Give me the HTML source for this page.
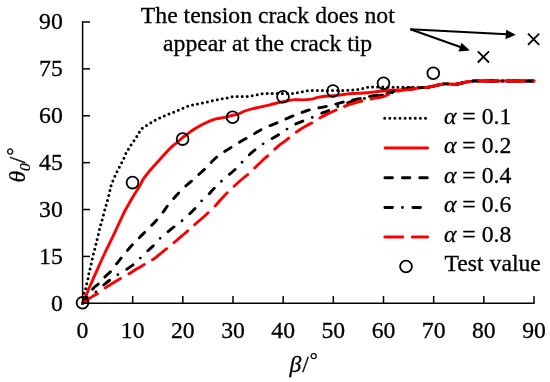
<!DOCTYPE html>
<html><head><meta charset="utf-8"><title>chart</title><style>html,body{margin:0;padding:0;background:#fff;width:550px;height:382px;overflow:hidden}svg{display:block}</style></head><body>
<svg width="550" height="382" viewBox="0 0 550 382">
<rect width="550" height="382" fill="#fff"/>
<path d="M82.50,303.30 C82.75,301.55 83.45,295.30 84.00,292.80 C84.55,290.30 85.33,289.92 85.80,288.30 C86.27,286.68 86.42,284.75 86.80,283.10 C87.18,281.45 87.75,280.03 88.10,278.40 C88.45,276.77 88.58,274.87 88.90,273.30 C89.22,271.73 89.62,270.58 90.00,269.00 C90.38,267.42 90.82,265.50 91.20,263.80 C91.58,262.10 91.92,260.47 92.30,258.80 C92.68,257.13 93.08,255.43 93.50,253.80 C93.92,252.17 94.38,250.60 94.80,249.00 C95.22,247.40 95.60,245.87 96.00,244.20 C96.40,242.53 96.78,240.70 97.20,239.00 C97.62,237.30 98.12,235.62 98.50,234.00 C98.88,232.38 99.12,230.88 99.50,229.30 C99.88,227.72 100.35,226.10 100.80,224.50 C101.25,222.90 101.75,221.32 102.20,219.70 C102.65,218.08 103.07,216.45 103.50,214.80 C103.93,213.15 104.35,211.43 104.80,209.80 C105.25,208.17 105.75,206.60 106.20,205.00 C106.65,203.40 107.07,201.78 107.50,200.20 C107.93,198.62 108.38,197.17 108.80,195.50 C109.22,193.83 109.60,191.92 110.00,190.20 C110.40,188.48 110.70,186.82 111.20,185.20 C111.70,183.58 112.37,182.03 113.00,180.50 C113.63,178.97 114.30,177.53 115.00,176.00 C115.70,174.47 116.45,172.80 117.20,171.30 C117.95,169.80 118.73,168.47 119.50,167.00 C120.27,165.53 121.05,164.00 121.80,162.50 C122.55,161.00 123.30,159.55 124.00,158.00 C124.70,156.45 125.25,154.70 126.00,153.20 C126.75,151.70 127.62,150.45 128.50,149.00 C129.38,147.55 130.35,145.92 131.30,144.50 C132.25,143.08 133.25,141.88 134.20,140.50 C135.15,139.12 136.12,137.62 137.00,136.20 C137.88,134.78 138.58,133.37 139.50,132.00 C140.42,130.63 141.28,129.13 142.50,128.00 C143.72,126.87 145.35,126.12 146.80,125.20 C148.25,124.28 149.75,123.37 151.20,122.50 C152.65,121.63 154.03,120.78 155.50,120.00 C156.97,119.22 158.47,118.52 160.00,117.80 C161.53,117.08 163.15,116.37 164.70,115.70 C166.25,115.03 167.75,114.42 169.30,113.80 C170.85,113.18 172.43,112.63 174.00,112.00 C175.57,111.37 177.12,110.67 178.70,110.00 C180.28,109.33 181.87,108.67 183.50,108.00 C185.13,107.33 186.92,106.50 188.50,106.00 C190.08,105.50 191.42,105.37 193.00,105.00 C194.58,104.63 196.33,104.17 198.00,103.80 C199.67,103.43 201.33,103.13 203.00,102.80 C204.67,102.47 206.33,102.15 208.00,101.80 C209.67,101.45 211.33,101.05 213.00,100.70 C214.67,100.35 216.33,100.03 218.00,99.70 C219.67,99.37 221.42,98.98 223.00,98.70 C224.58,98.42 225.92,98.32 227.50,98.00 C229.08,97.68 230.83,97.05 232.50,96.80 C234.17,96.55 235.83,96.55 237.50,96.50 C239.17,96.45 240.83,96.50 242.50,96.50 C244.17,96.50 245.83,96.62 247.50,96.50 C249.17,96.38 250.83,96.08 252.50,95.80 C254.17,95.52 255.83,95.13 257.50,94.80 C259.17,94.47 260.83,94.02 262.50,93.80 C264.17,93.58 265.83,93.53 267.50,93.50 C269.17,93.47 269.95,93.58 272.50,93.60 C275.05,93.62 279.38,93.63 282.80,93.60 C286.22,93.57 290.48,93.55 293.00,93.40 C295.52,93.25 296.25,93.00 297.90,92.70 C299.55,92.40 301.25,91.93 302.90,91.60 C304.55,91.27 306.15,90.87 307.80,90.70 C309.45,90.53 310.27,90.62 312.80,90.60 C315.33,90.58 317.97,90.62 323.00,90.60 C328.03,90.58 338.00,90.60 343.00,90.50 C348.00,90.40 350.50,90.17 353.00,90.00 C355.50,89.83 356.33,89.75 358.00,89.50 C359.67,89.25 361.33,88.88 363.00,88.50 C364.67,88.12 366.33,87.45 368.00,87.20 C369.67,86.95 369.33,87.00 373.00,87.00 C376.67,87.00 385.50,87.17 390.00,87.20 C394.50,87.23 396.67,87.20 400.00,87.20 C403.33,87.20 406.67,87.15 410.00,87.20 C413.33,87.25 417.33,87.43 420.00,87.50 C422.67,87.57 424.33,87.70 426.00,87.60 C427.67,87.50 428.33,87.23 430.00,86.90 C431.67,86.57 433.67,86.12 436.00,85.60 C438.33,85.08 441.50,84.03 444.00,83.80 C446.50,83.57 449.00,84.12 451.00,84.20 C453.00,84.28 454.17,84.50 456.00,84.30 C457.83,84.10 460.00,83.42 462.00,83.00 C464.00,82.58 465.83,82.18 468.00,81.80 C470.17,81.42 472.67,80.83 475.00,80.70 C477.33,80.57 472.17,80.95 482.00,81.00 C491.83,81.05 525.33,81.00 534.00,81.00" fill="none" stroke="#000" stroke-width="3.0" stroke-linecap="round" stroke-dasharray="0 5.05"/>
<path d="M82.50,303.30 C83.08,302.02 84.92,298.08 86.00,295.60 C87.08,293.12 88.02,290.70 89.00,288.40 C89.98,286.10 90.93,284.00 91.90,281.80 C92.87,279.60 93.82,277.40 94.80,275.20 C95.78,273.00 96.82,270.80 97.80,268.60 C98.78,266.40 99.80,264.02 100.70,262.00 C101.60,259.98 102.40,258.22 103.20,256.50 C104.00,254.78 104.52,253.73 105.50,251.70 C106.48,249.67 107.92,246.72 109.10,244.30 C110.28,241.88 111.55,239.38 112.60,237.20 C113.65,235.02 114.43,233.28 115.40,231.20 C116.37,229.12 117.33,227.02 118.40,224.70 C119.47,222.38 120.70,219.62 121.80,217.30 C122.90,214.98 123.90,212.88 125.00,210.80 C126.10,208.72 127.22,206.90 128.40,204.80 C129.58,202.70 130.87,200.28 132.10,198.20 C133.33,196.12 134.52,194.38 135.80,192.30 C137.08,190.22 138.53,187.92 139.80,185.70 C141.07,183.48 142.07,181.08 143.40,179.00 C144.73,176.92 146.20,175.20 147.80,173.20 C149.40,171.20 151.25,169.00 153.00,167.00 C154.75,165.00 156.75,162.90 158.30,161.20 C159.85,159.50 160.83,158.42 162.30,156.80 C163.77,155.18 165.45,153.23 167.10,151.50 C168.75,149.77 170.48,147.93 172.20,146.40 C173.92,144.87 175.72,143.73 177.40,142.30 C179.08,140.87 180.62,139.17 182.30,137.80 C183.98,136.43 185.67,135.43 187.50,134.10 C189.33,132.77 191.35,131.12 193.30,129.80 C195.25,128.48 197.12,127.35 199.20,126.20 C201.28,125.05 203.73,123.88 205.80,122.90 C207.87,121.92 209.73,121.00 211.60,120.30 C213.47,119.60 214.77,119.20 217.00,118.70 C219.23,118.20 222.50,117.83 225.00,117.30 C227.50,116.77 229.83,116.03 232.00,115.50 C234.17,114.97 235.83,114.85 238.00,114.10 C240.17,113.35 242.67,111.87 245.00,111.00 C247.33,110.13 249.50,109.55 252.00,108.90 C254.50,108.25 257.00,107.78 260.00,107.10 C263.00,106.42 266.67,105.58 270.00,104.80 C273.33,104.02 276.67,103.15 280.00,102.40 C283.33,101.65 287.50,100.77 290.00,100.30 C292.50,99.83 293.00,99.67 295.00,99.60 C297.00,99.53 299.50,99.93 302.00,99.90 C304.50,99.87 307.33,99.82 310.00,99.40 C312.67,98.98 315.50,97.92 318.00,97.40 C320.50,96.88 322.50,96.57 325.00,96.30 C327.50,96.03 330.50,96.00 333.00,95.80 C335.50,95.60 337.50,95.42 340.00,95.10 C342.50,94.78 345.67,94.17 348.00,93.90 C350.33,93.63 352.00,93.60 354.00,93.50 C356.00,93.40 357.67,93.43 360.00,93.30 C362.33,93.17 365.50,92.93 368.00,92.70 C370.50,92.47 372.67,92.18 375.00,91.90 C377.33,91.62 379.50,91.27 382.00,91.00 C384.50,90.73 387.00,90.47 390.00,90.30 C393.00,90.13 397.00,90.17 400.00,90.00 C403.00,89.83 405.67,89.53 408.00,89.30 C410.33,89.07 412.00,88.87 414.00,88.60 C416.00,88.33 418.00,87.87 420.00,87.70 C422.00,87.53 424.33,87.73 426.00,87.60 C427.67,87.47 428.33,87.23 430.00,86.90 C431.67,86.57 433.67,86.10 436.00,85.60 C438.33,85.10 441.50,84.13 444.00,83.90 C446.50,83.67 449.00,84.13 451.00,84.20 C453.00,84.27 454.17,84.50 456.00,84.30 C457.83,84.10 460.00,83.42 462.00,83.00 C464.00,82.58 465.83,82.15 468.00,81.80 C470.17,81.45 472.67,81.03 475.00,80.90 C477.33,80.77 472.17,80.98 482.00,81.00 C491.83,81.02 525.33,81.00 534.00,81.00" fill="none" stroke="#f00" stroke-width="2.9" stroke-linecap="round"/>
<path d="M82.50,303.30 C84.20,300.93 89.92,292.45 92.70,289.10 C95.48,285.75 97.13,285.27 99.20,283.20 C101.27,281.13 103.13,278.70 105.10,276.70 C107.07,274.70 109.02,273.43 111.00,271.20 C112.98,268.97 115.17,265.67 117.00,263.30 C118.83,260.93 120.17,259.25 122.00,257.00 C123.83,254.75 126.08,252.05 128.00,249.80 C129.92,247.55 131.50,245.63 133.50,243.50 C135.50,241.37 137.92,239.08 140.00,237.00 C142.08,234.92 143.83,233.17 146.00,231.00 C148.17,228.83 151.00,226.08 153.00,224.00 C155.00,221.92 156.00,220.92 158.00,218.50 C160.00,216.08 163.25,211.83 165.00,209.50 C166.75,207.17 166.83,206.58 168.50,204.50 C170.17,202.42 173.00,199.25 175.00,197.00 C177.00,194.75 178.33,193.17 180.50,191.00 C182.67,188.83 185.83,185.92 188.00,184.00 C190.17,182.08 191.33,181.42 193.50,179.50 C195.67,177.58 198.75,174.58 201.00,172.50 C203.25,170.42 205.00,169.00 207.00,167.00 C209.00,165.00 210.83,162.58 213.00,160.50 C215.17,158.42 217.58,156.30 220.00,154.50 C222.42,152.70 225.08,151.23 227.50,149.70 C229.92,148.17 232.00,146.83 234.50,145.30 C237.00,143.77 239.92,141.97 242.50,140.50 C245.08,139.03 247.50,137.95 250.00,136.50 C252.50,135.05 255.00,133.26 257.50,131.77 C260.00,130.28 262.33,128.79 265.00,127.55 C267.67,126.30 270.83,125.38 273.50,124.30 C276.17,123.22 278.33,122.27 281.00,121.10 C283.67,119.93 286.67,118.47 289.50,117.30 C292.33,116.13 295.25,115.15 298.00,114.10 C300.75,113.05 303.25,111.92 306.00,111.00 C308.75,110.08 311.67,109.25 314.50,108.60 C317.33,107.95 320.17,107.66 323.00,107.10 C325.83,106.54 328.50,105.95 331.50,105.22 C334.50,104.49 338.08,103.48 341.00,102.71 C343.92,101.94 346.17,101.22 349.00,100.60 C351.83,99.98 355.17,99.53 358.00,99.00 C360.83,98.47 363.67,97.90 366.00,97.40 C368.33,96.90 369.00,96.57 372.00,96.00 C375.00,95.43 380.17,94.80 384.00,94.00 C387.83,93.20 392.00,91.93 395.00,91.20 C398.00,90.47 399.50,90.13 402.00,89.60 C404.50,89.07 407.00,88.32 410.00,88.00 C413.00,87.68 417.33,87.77 420.00,87.70 C422.67,87.63 424.33,87.73 426.00,87.60 C427.67,87.47 428.33,87.23 430.00,86.90 C431.67,86.57 433.67,86.10 436.00,85.60 C438.33,85.10 441.50,84.13 444.00,83.90 C446.50,83.67 449.00,84.13 451.00,84.20 C453.00,84.27 454.17,84.50 456.00,84.30 C457.83,84.10 460.00,83.42 462.00,83.00 C464.00,82.58 465.83,82.15 468.00,81.80 C470.17,81.45 472.67,81.03 475.00,80.90 C477.33,80.77 472.17,80.98 482.00,81.00 C491.83,81.02 525.33,81.00 534.00,81.00" fill="none" stroke="#000" stroke-width="2.9" stroke-linecap="round" stroke-dasharray="7.6 9.8"/>
<path d="M82.50,303.30 C83.67,302.33 87.22,299.42 89.50,297.50 C91.78,295.58 93.90,293.82 96.20,291.80 C98.50,289.78 101.02,287.37 103.30,285.40 C105.58,283.43 107.50,281.78 109.90,280.00 C112.30,278.22 115.00,276.43 117.70,274.70 C120.40,272.97 123.53,271.25 126.10,269.60 C128.67,267.95 130.78,266.67 133.10,264.80 C135.42,262.93 137.68,260.62 140.00,258.40 C142.32,256.18 144.83,253.57 147.00,251.50 C149.17,249.43 150.83,248.17 153.00,246.00 C155.17,243.83 157.17,241.17 160.00,238.50 C162.83,235.83 166.42,232.88 170.00,230.00 C173.58,227.12 178.33,223.78 181.50,221.20 C184.67,218.62 186.83,216.53 189.00,214.50 C191.17,212.47 192.50,211.17 194.50,209.00 C196.50,206.83 198.75,203.83 201.00,201.50 C203.25,199.17 205.92,197.08 208.00,195.00 C210.08,192.92 211.50,191.08 213.50,189.00 C215.50,186.92 217.58,184.75 220.00,182.50 C222.42,180.25 225.58,177.58 228.00,175.50 C230.42,173.42 232.30,172.05 234.50,170.00 C236.70,167.95 238.95,165.53 241.20,163.20 C243.45,160.87 245.87,158.09 248.00,156.00 C250.13,153.91 251.75,152.50 254.00,150.65 C256.25,148.80 258.83,146.74 261.50,144.92 C264.17,143.10 267.42,141.25 270.00,139.73 C272.58,138.21 274.33,137.46 277.00,135.80 C279.67,134.15 283.33,131.55 286.00,129.80 C288.67,128.05 290.50,126.63 293.00,125.30 C295.50,123.97 298.17,122.92 301.00,121.80 C303.83,120.68 307.00,119.85 310.00,118.60 C313.00,117.35 316.17,115.52 319.00,114.30 C321.83,113.08 324.17,112.47 327.00,111.30 C329.83,110.13 332.67,108.66 336.00,107.28 C339.33,105.90 343.33,104.21 347.00,103.00 C350.67,101.79 353.83,101.00 358.00,100.00 C362.17,99.00 367.00,98.00 372.00,97.00 C377.00,96.00 383.33,95.08 388.00,94.00 C392.67,92.92 396.33,91.50 400.00,90.50 C403.67,89.50 406.67,88.47 410.00,88.00 C413.33,87.53 417.33,87.77 420.00,87.70 C422.67,87.63 424.33,87.73 426.00,87.60 C427.67,87.47 428.33,87.23 430.00,86.90 C431.67,86.57 433.67,86.10 436.00,85.60 C438.33,85.10 441.50,84.13 444.00,83.90 C446.50,83.67 449.00,84.13 451.00,84.20 C453.00,84.27 454.17,84.50 456.00,84.30 C457.83,84.10 460.00,83.42 462.00,83.00 C464.00,82.58 465.83,82.15 468.00,81.80 C470.17,81.45 472.67,81.03 475.00,80.90 C477.33,80.77 472.17,80.98 482.00,81.00 C491.83,81.02 525.33,81.00 534.00,81.00" fill="none" stroke="#000" stroke-width="2.9" stroke-linecap="round" stroke-dasharray="7.6 10 0 10.4"/>
<path d="M82.50,303.30 C84.25,302.10 90.38,297.77 93.00,296.10 C95.62,294.43 96.07,294.72 98.20,293.30 C100.33,291.88 102.57,289.77 105.80,287.60 C109.03,285.43 115.18,281.78 117.60,280.30 C120.02,278.82 118.33,279.82 120.30,278.70 C122.27,277.58 126.62,275.25 129.40,273.60 C132.18,271.95 134.37,270.38 137.00,268.80 C139.63,267.22 142.53,265.65 145.20,264.10 C147.87,262.55 150.53,261.18 153.00,259.50 C155.47,257.82 157.58,255.92 160.00,254.00 C162.42,252.08 164.83,250.17 167.50,248.00 C170.17,245.83 173.25,243.33 176.00,241.00 C178.75,238.67 181.67,236.00 184.00,234.00 C186.33,232.00 188.00,230.75 190.00,229.00 C192.00,227.25 193.83,225.42 196.00,223.50 C198.17,221.58 200.83,219.42 203.00,217.50 C205.17,215.58 206.83,214.08 209.00,212.00 C211.17,209.92 214.17,206.92 216.00,205.00 C217.83,203.08 218.00,202.67 220.00,200.50 C222.00,198.33 225.33,194.67 228.00,192.00 C230.67,189.33 233.33,186.92 236.00,184.50 C238.67,182.08 241.75,179.42 244.00,177.50 C246.25,175.58 247.50,174.80 249.50,173.00 C251.50,171.20 253.83,168.81 256.00,166.72 C258.17,164.63 260.33,162.45 262.50,160.45 C264.67,158.44 266.42,157.05 269.00,154.69 C271.58,152.33 275.50,148.45 278.00,146.30 C280.50,144.15 281.83,143.47 284.00,141.80 C286.17,140.13 288.50,138.22 291.00,136.30 C293.50,134.38 296.42,132.05 299.00,130.30 C301.58,128.55 304.00,127.22 306.50,125.80 C309.00,124.38 311.50,123.25 314.00,121.80 C316.50,120.35 319.17,118.43 321.50,117.10 C323.83,115.77 325.75,114.89 328.00,113.80 C330.25,112.70 333.00,111.40 335.00,110.53 C337.00,109.66 338.00,109.44 340.00,108.57 C342.00,107.70 344.33,106.31 347.00,105.30 C349.67,104.29 353.00,103.33 356.00,102.50 C359.00,101.67 362.00,100.98 365.00,100.30 C368.00,99.62 371.00,98.98 374.00,98.40 C377.00,97.82 379.93,97.75 383.00,96.80 C386.07,95.85 389.57,93.72 392.40,92.70 C395.23,91.68 397.73,91.17 400.00,90.70 C402.27,90.23 403.83,90.15 406.00,89.90 C408.17,89.65 410.67,89.57 413.00,89.20 C415.33,88.83 417.83,87.97 420.00,87.70 C422.17,87.43 424.33,87.73 426.00,87.60 C427.67,87.47 428.33,87.23 430.00,86.90 C431.67,86.57 433.67,86.10 436.00,85.60 C438.33,85.10 441.50,84.13 444.00,83.90 C446.50,83.67 449.00,84.13 451.00,84.20 C453.00,84.27 454.17,84.50 456.00,84.30 C457.83,84.10 460.00,83.42 462.00,83.00 C464.00,82.58 465.83,82.15 468.00,81.80 C470.17,81.45 472.67,81.03 475.00,80.90 C477.33,80.77 472.17,80.98 482.00,81.00 C491.83,81.02 525.33,81.00 534.00,81.00" fill="none" stroke="#f00" stroke-width="2.9" stroke-linecap="round" stroke-dasharray="18 9.5"/>
<g stroke="#000" stroke-width="1.5" fill="none">
<path d="M82.6,21.3 V303.3 H534.6" stroke-linejoin="miter"/>
<path d="M82.6,303.30 H90"/>
<path d="M82.6,256.42 H90"/>
<path d="M82.6,209.53 H90"/>
<path d="M82.6,162.65 H90"/>
<path d="M82.6,115.77 H90"/>
<path d="M82.6,68.88 H90"/>
<path d="M82.6,22.00 H90"/>
<path d="M132.67,303.3 V296"/>
<path d="M182.83,303.3 V296"/>
<path d="M233.00,303.3 V296"/>
<path d="M283.17,303.3 V296"/>
<path d="M333.33,303.3 V296"/>
<path d="M383.50,303.3 V296"/>
<path d="M433.67,303.3 V296"/>
<path d="M483.83,303.3 V296"/>
<path d="M534.00,303.3 V296"/>
</g>
<circle cx="82.5" cy="302.8" r="5.9" fill="none" stroke="#000" stroke-width="1.8"/>
<circle cx="132.5" cy="182.6" r="5.9" fill="none" stroke="#000" stroke-width="1.8"/>
<circle cx="182.6" cy="139.1" r="5.9" fill="none" stroke="#000" stroke-width="1.8"/>
<circle cx="232.6" cy="117.2" r="5.9" fill="none" stroke="#000" stroke-width="1.8"/>
<circle cx="283" cy="96.8" r="5.9" fill="none" stroke="#000" stroke-width="1.8"/>
<circle cx="333" cy="91" r="5.9" fill="none" stroke="#000" stroke-width="1.8"/>
<circle cx="383.5" cy="83.3" r="5.9" fill="none" stroke="#000" stroke-width="1.8"/>
<circle cx="433.3" cy="73.2" r="5.9" fill="none" stroke="#000" stroke-width="1.8"/>
<path d="M477.79999999999995,51.3 L489.0,62.5 M477.79999999999995,62.5 L489.0,51.3" stroke="#000" stroke-width="1.8" fill="none"/>
<path d="M528.0,33.6 L539.2,44.800000000000004 M528.0,44.800000000000004 L539.2,33.6" stroke="#000" stroke-width="1.8" fill="none"/>
<g stroke="#000" stroke-width="2" fill="none">
<path d="M410.3,29.3 L507,34.3"/>
<path d="M410.3,29.3 L461,47.2"/>
</g>
<polygon points="515.8,34.8 506.2,29.8 505.5,39.2" fill="#000"/>
<polygon points="469.8,50.5 461.5,42.8 458.5,51.5" fill="#000"/>
<g style="font-family:'Liberation Serif','Times New Roman',serif;font-size:23.7px;" fill="#000" stroke="#000" stroke-width="0.3">
<text transform="translate(62.80,310.60) scale(1,1.0)" text-anchor="end">0</text>
<text transform="translate(62.80,263.72) scale(1,1.0)" text-anchor="end">15</text>
<text transform="translate(62.80,216.83) scale(1,1.0)" text-anchor="end">30</text>
<text transform="translate(62.80,169.95) scale(1,1.0)" text-anchor="end">45</text>
<text transform="translate(62.80,123.07) scale(1,1.0)" text-anchor="end">60</text>
<text transform="translate(62.80,76.18) scale(1,1.0)" text-anchor="end">75</text>
<text transform="translate(62.80,29.30) scale(1,1.0)" text-anchor="end">90</text>
<text transform="translate(82.50,338.20) scale(1,1.0)" text-anchor="middle">0</text>
<text transform="translate(132.67,338.20) scale(1,1.0)" text-anchor="middle">10</text>
<text transform="translate(182.83,338.20) scale(1,1.0)" text-anchor="middle">20</text>
<text transform="translate(233.00,338.20) scale(1,1.0)" text-anchor="middle">30</text>
<text transform="translate(283.17,338.20) scale(1,1.0)" text-anchor="middle">40</text>
<text transform="translate(333.33,338.20) scale(1,1.0)" text-anchor="middle">50</text>
<text transform="translate(383.50,338.20) scale(1,1.0)" text-anchor="middle">60</text>
<text transform="translate(433.67,338.20) scale(1,1.0)" text-anchor="middle">70</text>
<text transform="translate(483.83,338.20) scale(1,1.0)" text-anchor="middle">80</text>
<text transform="translate(534.00,338.20) scale(1,1.0)" text-anchor="middle">90</text>
<text transform="translate(267.80,23.20) scale(1,1.0)" text-anchor="middle">The tension crack does not</text>
<text transform="translate(267.60,50.90) scale(1,1.0)" text-anchor="middle">appear at the crack tip</text>
<text transform="translate(444.00,123.60) scale(1,1.0)"><tspan font-style="italic">α</tspan> = 0.1</text>
<text transform="translate(444.00,153.20) scale(1,1.0)"><tspan font-style="italic">α</tspan> = 0.2</text>
<text transform="translate(444.00,182.80) scale(1,1.0)"><tspan font-style="italic">α</tspan> = 0.4</text>
<text transform="translate(444.00,212.40) scale(1,1.0)"><tspan font-style="italic">α</tspan> = 0.6</text>
<text transform="translate(444.00,242.00) scale(1,1.0)"><tspan font-style="italic">α</tspan> = 0.8</text>
<text transform="translate(444.50,271.30) scale(1,1.0)">Test value</text>
<text transform="translate(289.60,371.80) scale(1,1.0)"><tspan font-style="italic">β</tspan><tspan dx="0.8">/</tspan><tspan dx="1" dy="-4.4" font-size="20px">°</tspan></text>
<text transform="translate(24.80,182.60) rotate(-90) scale(1,1.0)"><tspan font-style="italic">θ</tspan><tspan font-style="italic" font-size="15.5px" dy="5">0</tspan><tspan dy="-5">/</tspan><tspan dx="1.1" dy="-3.4" font-size="20px">°</tspan></text>
</g>
<path d="M384.7,118.3 H427" stroke="#000" stroke-width="3.0" stroke-linecap="round" stroke-dasharray="0 5.1" fill="none"/>
<path d="M385,148 H427.6" stroke="#f00" stroke-width="2.9" stroke-linecap="round" fill="none"/>
<path d="M384.9,177.7 H427.7" stroke="#000" stroke-width="2.9" stroke-linecap="round" stroke-dasharray="7.6 9.8" fill="none"/>
<path d="M384.9,207.5 H420.6" stroke="#000" stroke-width="2.9" stroke-linecap="round" stroke-dasharray="7.6 10 0 10.4" fill="none"/>
<path d="M384.8,237 H427.7" stroke="#f00" stroke-width="2.9" stroke-linecap="round" stroke-dasharray="18 9.5" fill="none"/>
<circle cx="406" cy="266.5" r="5.9" fill="none" stroke="#000" stroke-width="1.8"/>
</svg>
</body></html>
